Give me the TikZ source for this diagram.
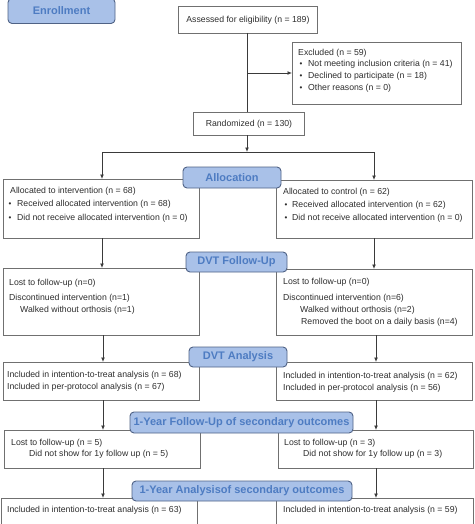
\documentclass[tikz,border=0pt]{standalone}
\usepackage{fontspec}
\setmainfont{Liberation Sans}
\usetikzlibrary{arrows.meta}
\definecolor{boxgray}{HTML}{707070}
\definecolor{linegray}{HTML}{3A3A3A}
\definecolor{txtgray}{HTML}{2E2E2E}
\definecolor{lblfill}{HTML}{A9C1E8}
\definecolor{lblborder}{HTML}{4F6285}
\definecolor{lbltext}{HTML}{4E7CC2}
\tikzset{
  box/.style={draw=boxgray, line width=0.9pt, inner sep=0pt, anchor=north west},
  lbl/.style={draw=lblborder, fill=lblfill, rounded corners=4pt, line width=0.9pt,
    text=lbltext, font=\bfseries\fontsize{11}{13}\selectfont, inner sep=0pt},
  txt/.style={anchor=west, inner sep=0pt, text=txtgray, font=\fontsize{8.7}{10}\selectfont},
  bul/.style={anchor=center, inner sep=0pt, text=txtgray, font=\fontsize{8}{9}\selectfont},
  arr/.style={draw=linegray, line width=0.9pt, -{Latex[length=4.5pt,width=4pt]}},
  ln/.style={draw=linegray, line width=0.9pt}
}
\begin{document}
\begin{tikzpicture}[x=1pt,y=-1pt]
\useasboundingbox (0,0) rectangle (474,524);
\clip (0,0) rectangle (474,524);
\fill[white] (0,0) rectangle (474,524);

% ---------- boxes ----------
\node[box, minimum width=139pt, minimum height=27pt] (assess) at (178,6) {};
\node[txt, anchor=center] (tassess) at (assess.center) {Assessed for eligibility (n = 189)};

\node[box, minimum width=169pt, minimum height=62pt] (excl) at (292,42) {};
\node[txt] (te1) at (298,53) {Excluded (n = 59)};
\node[bul] (be2) at (301,64.5) {•};
\node[txt] (te2) at (308,64) {Not meeting inclusion criteria (n = 41)};
\node[bul] (be3) at (301,76.5) {•};
\node[txt] (te3) at (308,76) {Declined to participate (n = 18)};
\node[bul] (be4) at (301,88.5) {•};
\node[txt] (te4) at (308,88) {Other reasons (n = 0)};

\node[box, minimum width=111pt, minimum height=23pt] (rand) at (193,112) {};
\node[txt, anchor=center] (trand) at (rand.center) {Randomized (n = 130)};

\node[box, minimum width=196pt, minimum height=59pt] (allocL) at (3,179) {};
\node[txt] (tal1) at (10,191) {Allocated to intervention (n = 68)};
\node[bul] (bal2) at (10,204.5) {•};
\node[txt] (tal2) at (17,204) {Received allocated intervention (n = 68)};
\node[bul] (bal3) at (10,218.5) {•};
\node[txt] (tal3) at (17,218) {Did not receive allocated intervention (n = 0)};

\node[box, minimum width=196pt, minimum height=58pt] (allocR) at (276,180) {};
\node[txt] (tar1) at (283,192) {Allocated to control (n = 62)};
\node[bul] (bar2) at (286,205.5) {•};
\node[txt] (tar2) at (292,205) {Received allocated intervention (n = 62)};
\node[bul] (bar3) at (286,218.5) {•};
\node[txt] (tar3) at (292,218) {Did not receive allocated intervention (n = 0)};

\node[box, minimum width=196pt, minimum height=67pt] (fuL) at (3,268) {};
\node[txt] (tfl1) at (9,283) {Lost to follow-up (n=0)};
\node[txt] (tfl2) at (9,298) {Discontinued intervention (n=1)};
\node[txt] (tfl3) at (20,310) {Walked without orthosis (n=1)};

\node[box, minimum width=196pt, minimum height=66pt] (fuR) at (276,269) {};
\node[txt] (tfr1) at (283,282) {Lost to follow-up (n=0)};
\node[txt] (tfr2) at (283,298) {Discontinued intervention (n=6)};
\node[txt] (tfr3) at (300,310) {Walked without orthosis (n=2)};
\node[txt] (tfr4) at (301,322) {Removed the boot on a daily basis (n=4)};

\node[box, minimum width=196pt, minimum height=38pt] (anL) at (3,362) {};
\node[txt] (tnl1) at (7,375) {Included in intention-to-treat analysis (n = 68)};
\node[txt] (tnl2) at (7,387) {Included in per-protocol analysis (n = 67)};

\node[box, minimum width=196pt, minimum height=38pt] (anR) at (276,362) {};
\node[txt] (tnr1) at (283,376) {Included in intention-to-treat analysis (n = 62)};
\node[txt] (tnr2) at (283,388) {Included in per-protocol analysis (n = 56)};

\node[box, minimum width=196pt, minimum height=38pt] (yfL) at (4,430) {};
\node[txt] (tyl1) at (11,443) {Lost to follow-up (n = 5)};
\node[txt] (tyl2) at (29,454) {Did not show for 1y follow up (n = 5)};

\node[box, minimum width=195pt, minimum height=38pt] (yfR) at (278,430) {};
\node[txt] (tyr1) at (284,443) {Lost to follow-up (n = 3)};
\node[txt] (tyr2) at (303,454) {Did not show for 1y follow up (n = 3)};

\node[box, minimum width=196pt, minimum height=40pt] (yaL) at (1,498) {};
\node[txt] (tal) at (7,510) {Included in intention-to-treat analysis (n = 63)};

\node[box, minimum width=197pt, minimum height=40pt] (yaR) at (276,498) {};
\node[txt] (tar) at (283,510) {Included in intention-to-treat analysis (n = 59)};

% ---------- connectors ----------
\coordinate (split) at (247,152);
\coordinate (splitL) at (102,152);
\coordinate (splitR) at (374,152);
\coordinate (exj) at (247,73);
\draw[ln] (247,33) coordinate (as) -- (247,112) coordinate (rt);
\draw[arr] (exj) -- (excl.west |- exj);
\draw[arr] (247,135) coordinate (rb) -- (split);
\draw[ln] (splitL) -- (splitR);
\draw[arr] (splitL) -- (splitL |- allocL.north);
\draw[arr] (splitR) -- (splitR |- allocR.north);
\draw[arr] (102,238) coordinate (a1) -- (102,268) coordinate (a2);
\draw[arr] (374,238) coordinate (a3) -- (374,269) coordinate (a4);
\draw[arr] (103,335) coordinate (b1) -- (103,362) coordinate (b2);
\draw[arr] (376,335) coordinate (b3) -- (376,362) coordinate (b4);
\draw[arr] (103,400) coordinate (c1) -- (103,430) coordinate (c2);
\draw[arr] (376,400) coordinate (c3) -- (376,430) coordinate (c4);
\draw[arr] (103,468) coordinate (d1) -- (103,498) coordinate (d2);
\draw[arr] (376,468) coordinate (d3) -- (376,498) coordinate (d4);

% ---------- stage labels ----------
\node[lbl, minimum width=107pt, minimum height=25pt] (enr) at (61.5,11) {Enrollment};
\node[lbl, minimum width=98pt, minimum height=21pt] (alloc) at (232,177.5) {Allocation};
\node[lbl, minimum width=101pt, minimum height=20pt] (dvtfu) at (236.5,262) {DVT Follow-Up};
\node[lbl, minimum width=98pt, minimum height=20pt] (dvtan) at (238,357) {DVT Analysis};
\node[lbl, minimum width=223pt, minimum height=21pt] (yfu) at (241.5,422.5) {1-Year Follow-Up of secondary outcomes};
\node[lbl, minimum width=220pt, minimum height=20pt] (yan) at (242,491) {1-Year Analysisof secondary outcomes};
\end{tikzpicture}
\end{document}
